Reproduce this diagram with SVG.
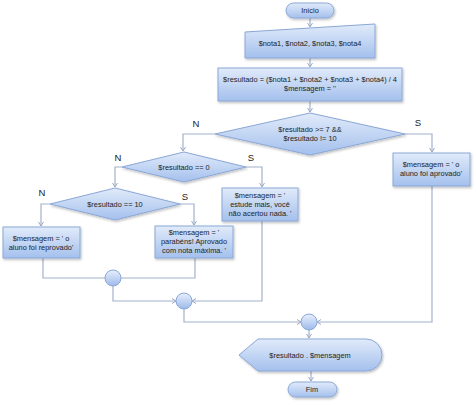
<svg xmlns="http://www.w3.org/2000/svg" width="474" height="402" viewBox="0 0 474 402">
<defs>
<linearGradient id="g" x1="0" y1="0" x2="0" y2="1">
<stop offset="0" stop-color="#e1ebfa"/>
<stop offset="1" stop-color="#a4c0ed"/>
</linearGradient>
<linearGradient id="gc" x1="0" y1="0" x2="0" y2="1">
<stop offset="0" stop-color="#e8f0fc"/>
<stop offset="1" stop-color="#9dbaea"/>
</linearGradient>
<filter id="sh" x="-10%" y="-10%" width="130%" height="140%">
<feDropShadow dx="1" dy="1.5" stdDeviation="1" flood-color="#000" flood-opacity="0.25"/>
</filter>
<marker id="a" markerWidth="6" markerHeight="6" refX="5" refY="3" orient="auto" markerUnits="userSpaceOnUse">
<path d="M1,0.5 L5,3 L1,5.5" fill="none" stroke="#9aaac4" stroke-width="1"/>
</marker>
</defs>
<style>
.n{fill:url(#g);stroke:#8aa7d6;stroke-width:1;filter:url(#sh)}
.c{fill:url(#gc);stroke:#8aa7d6;stroke-width:1}
.t{font-family:"Liberation Sans",Arial,sans-serif;font-size:7.4px;fill:#222;text-anchor:middle}
.l{font-family:"Liberation Sans",Arial,sans-serif;font-size:9.5px;fill:#222;text-anchor:middle}
#connectors path{fill:none;stroke:#a3b2cb;stroke-width:1.2}
.ar{marker-end:url(#a)}
</style>
<rect width="474" height="402" fill="#ffffff"/>
<g id="connectors">
<path class="ar" d="M310,18 L310,27"/>
<path class="ar" d="M310,58 L310,67"/>
<path class="ar" d="M310,101 L310,112"/>
<path class="ar" d="M215,134 L183,134 L183,151"/>
<path class="ar" d="M405,134 L432,134 L432,152"/>
<path class="ar" d="M122,167 L115,167 L115,187"/>
<path class="ar" d="M246,167 L262,167 L262,187"/>
<path class="ar" d="M50,204 L41,204 L41,226"/>
<path class="ar" d="M180,204 L194,204 L194,225"/>
<path d="M43,258 L43,278 L105,278"/>
<path d="M195,258 L195,278 L121,278"/>
<path class="ar" d="M113,286 L113,301 L176,301"/>
<path class="ar" d="M262,221 L262,301 L192,301"/>
<path class="ar" d="M184,309 L184,322 L301,322"/>
<path class="ar" d="M432,186 L432,322 L317,322"/>
<path class="ar" d="M309,330 L309,338"/>
<path class="ar" d="M311,371 L311,381"/>
</g>
<g id="inicio">
<rect class="n" x="286" y="3" width="48" height="15" rx="7.5"/>
<text class="t" x="310" y="13">Início</text>
</g>
<g id="entrada">
<polygon class="n" points="245,32 375,24 375,58 245,58"/>
<text class="t" x="310" y="46">$nota1, $nota2, $nota3, $nota4</text>
</g>
<g id="calculo">
<rect class="n" x="218" y="68" width="184" height="33"/>
<text class="t" x="310" y="82">$resultado = ($nota1 + $nota2 + $nota3 + $nota4) / 4</text>
<text class="t" x="310" y="91">$mensagem = ''</text>
</g>
<g id="decisao1">
<polygon class="n" points="310,113 405,134 310,155 215,134"/>
<text class="t" x="310" y="132">$resultado &gt;= 7 &amp;&amp;</text>
<text class="t" x="310" y="141">$resultado != 10</text>
</g>
<g id="decisao2">
<polygon class="n" points="184,152 246,167 184,182 122,167"/>
<text class="t" x="184" y="170">$resultado == 0</text>
</g>
<g id="decisao3">
<polygon class="n" points="115,188 180,204 115,220 50,204"/>
<text class="t" x="115" y="207">$resultado == 10</text>
</g>
<g id="aprovado">
<rect class="n" x="393" y="153" width="77" height="33"/>
<text class="t" x="431" y="167">$mensagem = ' o</text>
<text class="t" x="431" y="176">aluno foi aprovado'</text>
</g>
<g id="estude">
<rect class="n" x="222" y="188" width="76" height="33"/>
<text class="t" x="260" y="198">$mensagem = '</text>
<text class="t" x="260" y="207">estude mais, você</text>
<text class="t" x="260" y="216">não acertou nada. '</text>
</g>
<g id="reprovado">
<rect class="n" x="3" y="227" width="77" height="31"/>
<text class="t" x="41" y="241">$mensagem = ' o</text>
<text class="t" x="41" y="250">aluno foi reprovado'</text>
</g>
<g id="parabens">
<rect class="n" x="155" y="226" width="78" height="32"/>
<text class="t" x="194" y="235">$mensagem = '</text>
<text class="t" x="194" y="244">parabéns! Aprovado</text>
<text class="t" x="194" y="253">com nota máxima. '</text>
</g>
<g id="juncao1"><circle class="c" cx="113" cy="278" r="8"/></g>
<g id="juncao2"><circle class="c" cx="184" cy="301" r="8"/></g>
<g id="juncao3"><circle class="c" cx="309" cy="322" r="8"/></g>
<g id="saida">
<path class="n" d="M239,355 L258,339 L366,339 A16,16 0 0 1 366,371 L258,371 Z"/>
<text class="t" x="310" y="358">$resultado . $mensagem</text>
</g>
<g id="fim">
<rect class="n" x="288" y="382" width="49" height="15" rx="7.5"/>
<text class="t" x="312" y="392">Fim</text>
</g>
<g id="rotulos">
<text class="l" x="196" y="127">N</text>
<text class="l" x="418" y="126">S</text>
<text class="l" x="118" y="161">N</text>
<text class="l" x="251" y="161">S</text>
<text class="l" x="42" y="196">N</text>
<text class="l" x="185" y="200">S</text>
</g>
</svg>
